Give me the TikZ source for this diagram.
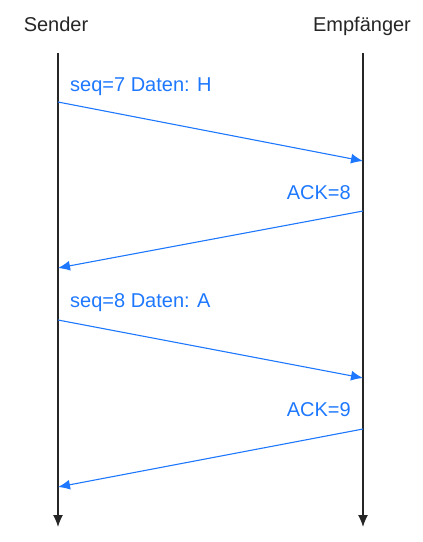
\documentclass[tikz,border=0pt]{standalone}
\usepackage{fontspec}
\setmainfont{Liberation Sans}
\usetikzlibrary{arrows.meta}
\definecolor{msgblue}{RGB}{30,120,255}
\newcommand{\sx}{58}
\newcommand{\ex}{363}

\begin{document}
\begin{tikzpicture}[x=1pt, y=-1pt,
    head/.style={font=\fontsize{20}{24}\selectfont, text=black!85, inner sep=0pt, anchor=base},
    lbl/.style={font=\fontsize{20}{24}\selectfont, text=msgblue, inner sep=0pt},
    life/.style={draw=black!85, line width=1.3pt, -{Latex[length=12pt,width=10pt]}},
    msg/.style={draw=msgblue, line width=1.1pt, -{Latex[length=12pt,width=10pt]}}]
    \useasboundingbox (0,0) rectangle (423,542);

    % Header
    \node[head] (sender) at (56,31) {Sender};
    \node[head] (empf) at (362,31) {Empfänger};

    % Lifelines
    \coordinate (s-top) at (\sx,53);
    \coordinate (s-bot) at (\sx,527);
    \coordinate (e-top) at (\ex,53);
    \coordinate (e-bot) at (\ex,527);
    \draw[life] (s-top) -- (s-bot);
    \draw[life] (e-top) -- (e-bot);

    % First message
    \coordinate (s-1) at (\sx,102);
    \coordinate (e-1) at (\ex,161);
    \draw[msg] (s-1) -- (e-1);
    \node[lbl, anchor=base west] (lbl-1) at (70,91) {seq=7 Daten: H};

    \coordinate (e-2) at (\ex,211);
    \coordinate (s-2) at (\sx,268);
    \draw[msg] (e-2) -- (s-2);
    \node[lbl, anchor=base east] (lbl-2) at (351,199) {ACK=8};

    % Second message
    \coordinate (s-3) at (\sx,320);
    \coordinate (e-3) at (\ex,378);
    \draw[msg] (s-3) -- (e-3);
    \node[lbl, anchor=base west] (lbl-3) at (70,307) {seq=8 Daten: A};

    \coordinate (e-4) at (\ex,429);
    \coordinate (s-4) at (\sx,487);
    \draw[msg] (e-4) -- (s-4);
    \node[lbl, anchor=base east] (lbl-4) at (351,416) {ACK=9};

\end{tikzpicture}
\end{document}
